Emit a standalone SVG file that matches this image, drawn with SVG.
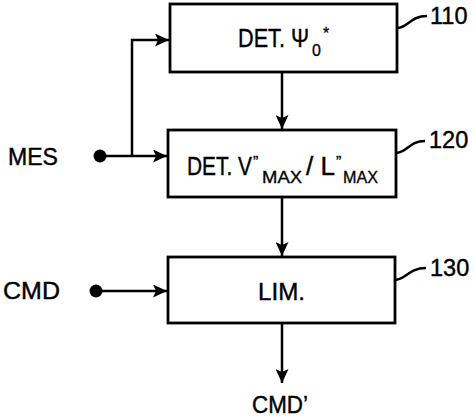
<svg xmlns="http://www.w3.org/2000/svg" width="474" height="419" viewBox="0 0 474 419">
<style>
.box{fill:#fff;stroke:#000;stroke-width:2.8}
.ln{fill:none;stroke:#000;stroke-width:2.5}
text{font-family:"Liberation Sans",Arial,sans-serif;font-size:23.5px;fill:#000;stroke:#000;stroke-width:0.4}
.big{font-size:26px}
.sub{font-size:16px;stroke-width:0.3}
</style>
<defs>
<marker id="ah" viewBox="0 0 14 13" refX="14" refY="6.5" markerWidth="14" markerHeight="13" markerUnits="userSpaceOnUse" orient="auto">
<path d="M0,0 L14,6.5 L0,13 L3,6.5 Z" fill="#000"/>
</marker>
</defs>
<rect width="474" height="419" fill="#fff"/>
<g id="connectors">
<line class="ln" x1="100" y1="156" x2="167" y2="156" marker-end="url(#ah)"/>
<polyline class="ln" points="132,156 132,40 169,40" marker-end="url(#ah)"/>
<line class="ln" x1="282" y1="72" x2="282" y2="129" marker-end="url(#ah)"/>
<line class="ln" x1="282" y1="197" x2="282" y2="256" marker-end="url(#ah)"/>
<line class="ln" x1="96" y1="291" x2="167" y2="291" marker-end="url(#ah)"/>
<line class="ln" x1="282" y1="323" x2="282" y2="383" marker-end="url(#ah)"/>
<circle cx="100" cy="156" r="6.5" fill="#000"/>
<circle cx="96" cy="291" r="6.5" fill="#000"/>
</g>
<g id="node110">
<rect class="box" x="170" y="4" width="227" height="68"/>
<text class="big" x="238" y="47"><tspan textLength="71" lengthAdjust="spacingAndGlyphs">DET. Ψ</tspan><tspan class="sub" x="312" y="56">0</tspan><tspan class="sub" x="323" y="39">*</tspan></text>
<path class="ln" d="M397,28 C408,28 410,16 427,16"/>
<text x="430" y="24">110</text>
</g>
<g id="node120">
<rect class="box" x="168" y="130" width="228" height="67"/>
<text class="big" x="187" y="175"><tspan textLength="65" lengthAdjust="spacingAndGlyphs">DET. V</tspan><tspan class="sub" x="253" y="168">”</tspan><tspan class="sub" x="262" y="183" textLength="40" lengthAdjust="spacingAndGlyphs">MAX</tspan><tspan x="306" y="175" textLength="29" lengthAdjust="spacingAndGlyphs">/ L</tspan><tspan class="sub" x="336" y="168">”</tspan><tspan class="sub" x="343" y="183" textLength="35" lengthAdjust="spacingAndGlyphs">MAX</tspan></text>
<path class="ln" d="M396,153 C407,153 409,141 425,141"/>
<text x="429" y="148">120</text>
</g>
<g id="node130">
<rect class="box" x="168" y="257" width="227" height="66"/>
<text x="258" y="300" textLength="47" lengthAdjust="spacingAndGlyphs">LIM.</text>
<path class="ln" d="M395,280 C406,280 408,268 426,268"/>
<text x="430" y="276">130</text>
</g>
<g id="labels">
<text x="8" y="165" textLength="50" lengthAdjust="spacingAndGlyphs">MES</text>
<text x="3" y="299" textLength="57" lengthAdjust="spacingAndGlyphs">CMD</text>
<text x="252" y="413" textLength="56" lengthAdjust="spacingAndGlyphs">CMD’</text>
</g>
</svg>
